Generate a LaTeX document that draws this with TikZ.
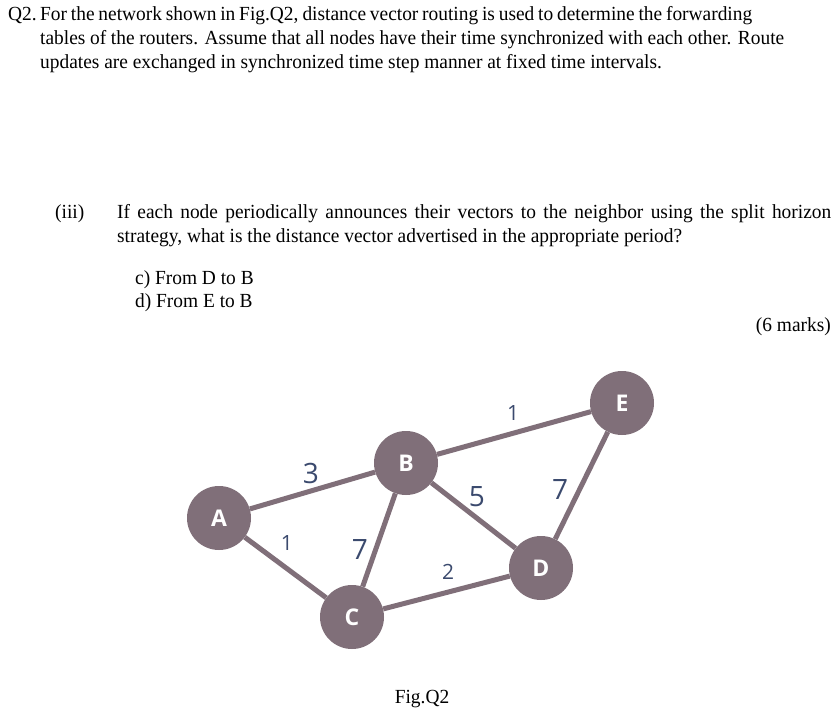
\documentclass[tikz,border=0pt]{standalone}
\usepackage{fontspec}
\setmainfont{Liberation Serif}[FakeStretch=0.97]
\newfontfamily\graphfont{Open Sans}
\definecolor{nodegray}{HTML}{806F79}
\definecolor{labelblue}{HTML}{3B4A6E}
\begin{document}
\begin{tikzpicture}[x=1pt,y=-1pt,
  txt/.style={anchor=base west,inner sep=0pt,font=\fontsize{20}{24}\selectfont},
  router/.style={circle,fill=nodegray,minimum size=64pt,inner sep=0pt,text=white,font=\graphfont\bfseries\fontsize{23}{23}\selectfont},
  link/.style={draw=nodegray,line width=5pt},
  wsmall/.style={text=labelblue,font=\graphfont\fontsize{21}{21}\selectfont,inner sep=0pt},
  wbig/.style={text=labelblue,font=\graphfont\fontsize{28}{28}\selectfont,inner sep=0pt}]
\useasboundingbox (0,0) rectangle (836,712);
\fill[white] (0,0) rectangle (836,712);
% question text
\node[txt] (q2) at (8,20) {Q2.};
\node[txt] (l1) at (40,20) {\makebox[712pt][s]{For the network shown in Fig.Q2, distance vector routing is used to determine the forwarding}};
\node[txt] (l2) at (40,44) {\makebox[744pt][s]{tables of the routers. Assume that all nodes have their time synchronized with each other. Route}};
\node[txt] (l3) at (40,68) {updates are exchanged in synchronized time step manner at fixed time intervals.};
\node[txt] (iii) at (55,218) {(iii)};
\node[txt] (m1) at (117,218) {\makebox[714pt][s]{If each node periodically announces their vectors to the neighbor using the split horizon}};
\node[txt] (m2) at (117,242) {strategy, what is the distance vector advertised in the appropriate period?};
\node[txt] (c) at (135,284) {c) From D to B};
\node[txt] (d) at (135,307) {d) From E to B};
\node[txt,anchor=base east] (marks) at (831,331) {(6 marks)};
\node[txt,anchor=base] (fig) at (422,703) {Fig.Q2};
% graph
\node[router] (A) at (219,518) {A};
\node[router] (B) at (406,463) {B};
\node[router] (C) at (352,617) {C};
\node[router] (D) at (541,568) {D};
\node[router] (E) at (622,403) {E};
\draw[link] (A) -- (B);
\draw[link] (A) -- (C);
\draw[link] (B) -- (C);
\draw[link] (B) -- (D);
\draw[link] (B) -- (E);
\draw[link] (C) -- (D);
\draw[link] (D) -- (E);
\node[wbig] (w3) at (311,473) {3};
\node[wsmall] (w1a) at (513,413) {1};
\node[wbig] (w5) at (477,497) {5};
\node[wbig] (w7a) at (560,490) {7};
\node[wsmall] (w1b) at (287,543) {1};
\node[wbig] (w7b) at (360,550) {7};
\node[wsmall] (w2) at (448,572) {2};
\end{tikzpicture}
\end{document}
